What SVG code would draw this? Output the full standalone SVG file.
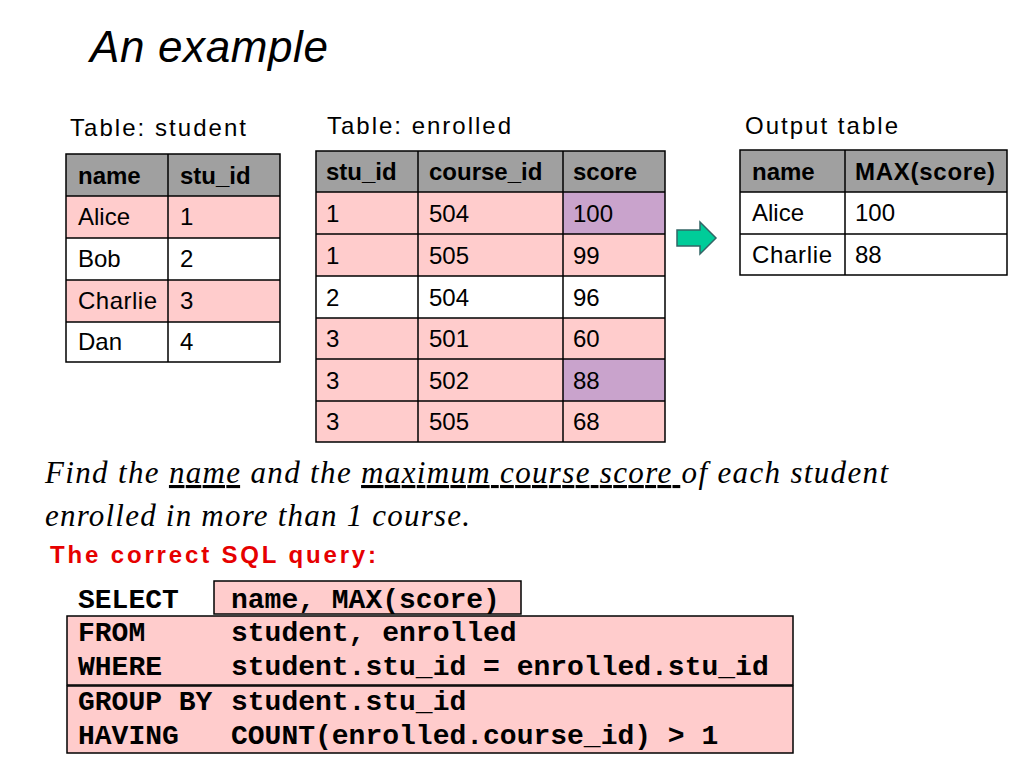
<svg xmlns="http://www.w3.org/2000/svg" width="1024" height="768" viewBox="0 0 1024 768">
<style>
.t{font-family:"Liberation Sans",Arial,sans-serif;font-size:24px;fill:#000}
.h{font-family:"Liberation Sans",Arial,sans-serif;font-size:24px;font-weight:bold;fill:#000}
.r{fill:#ffcccc}
.p{fill:#c9a3cc}
.g{fill:#a0a0a0}
.ln{stroke:#000;stroke-width:1.5;fill:none}
.m{font-family:"Liberation Mono","Courier New",monospace;font-size:28px;font-weight:bold;fill:#000}
.s{font-family:"Liberation Serif","Times New Roman",serif;font-size:31px;font-style:italic;fill:#000}
</style>
<rect width="1024" height="768" fill="#fff"/>
<text x="90" y="62" font-family="Liberation Sans,Arial,sans-serif" font-size="44" font-style="italic" textLength="238">An example</text>
<text class="t" x="70" y="136" textLength="176">Table: student</text>
<text class="t" x="327" y="134" textLength="184">Table: enrolled</text>
<text class="t" x="745" y="134" textLength="153">Output table</text>
<g id="student">
<rect class="g" x="66" y="154" width="214" height="42"/>
<rect class="r" x="66" y="196" width="214" height="42"/>
<rect class="r" x="66" y="280" width="214" height="42"/>
<path class="ln" d="M66 154H280V362H66Z M66 196H280 M66 238H280 M66 280H280 M66 322H280 M168 154V362"/>
<text class="h" x="78" y="184">name</text><text class="h" x="180" y="184">stu_id</text>
<text class="t" x="78" y="225">Alice</text><text class="t" x="180" y="225">1</text>
<text class="t" x="78" y="267">Bob</text><text class="t" x="180" y="267">2</text>
<text class="t" x="78" y="309" textLength="79">Charlie</text><text class="t" x="180" y="309">3</text>
<text class="t" x="78" y="350">Dan</text><text class="t" x="180" y="350">4</text>
</g>
<g id="enrolled">
<rect class="g" x="316" y="151" width="349" height="41"/>
<rect class="r" x="316" y="192" width="349" height="84"/>
<rect class="r" x="316" y="318" width="349" height="124"/>
<rect class="p" x="563" y="192" width="102" height="42"/>
<rect class="p" x="563" y="359" width="102" height="42"/>
<path class="ln" d="M316 151H665V442H316Z M316 192H665 M316 234H665 M316 276H665 M316 318H665 M316 359H665 M316 401H665 M418 151V442 M563 151V442"/>
<text class="h" x="326" y="180">stu_id</text><text class="h" x="429" y="180">course_id</text><text class="h" x="573" y="180">score</text>
<text class="t" x="326" y="222">1</text><text class="t" x="429" y="222">504</text><text class="t" x="573" y="222">100</text>
<text class="t" x="326" y="264">1</text><text class="t" x="429" y="264">505</text><text class="t" x="573" y="264">99</text>
<text class="t" x="326" y="306">2</text><text class="t" x="429" y="306">504</text><text class="t" x="573" y="306">96</text>
<text class="t" x="326" y="347">3</text><text class="t" x="429" y="347">501</text><text class="t" x="573" y="347">60</text>
<text class="t" x="326" y="389">3</text><text class="t" x="429" y="389">502</text><text class="t" x="573" y="389">88</text>
<text class="t" x="326" y="430">3</text><text class="t" x="429" y="430">505</text><text class="t" x="573" y="430">68</text>
</g>
<g id="arrow">
<path d="M677 230H700V222L716 238L700 254V246H677Z" fill="#00cc99" stroke="#336666" stroke-width="1.5"/>
</g>
<g id="output">
<rect class="g" x="740" y="150" width="267" height="42"/>
<path class="ln" d="M740 150H1007V275H740Z M740 192H1007 M740 234H1007 M845 150V275"/>
<text class="h" x="752" y="180">name</text><text class="h" x="855" y="180" textLength="140">MAX(score)</text>
<text class="t" x="752" y="221">Alice</text><text class="t" x="855" y="221">100</text>
<text class="t" x="752" y="263" textLength="80">Charlie</text><text class="t" x="855" y="263">88</text>
</g>
<text class="s" x="45" y="483" textLength="843">Find the <tspan text-decoration="underline">name</tspan> and the <tspan text-decoration="underline">maximum course score </tspan>of each student</text>
<text class="s" x="45" y="526" textLength="425">enrolled in more than 1 course.</text>
<text x="50" y="563" font-family="Liberation Sans,Arial,sans-serif" font-size="24" font-weight="bold" fill="#e60000" textLength="326">The correct SQL query:</text>
<g id="sql">
<rect class="r" x="214" y="581" width="307" height="33" stroke="#000" stroke-width="1.5"/>
<rect class="r" x="67" y="616" width="726" height="69" stroke="#000" stroke-width="1.5"/>
<rect class="r" x="67" y="686" width="726" height="67" stroke="#000" stroke-width="1.5"/>
<text class="m" x="78" y="608">SELECT</text><text class="m" x="231" y="608">name, MAX(score)</text>
<text class="m" x="78" y="641">FROM</text><text class="m" x="231" y="641">student, enrolled</text>
<text class="m" x="78" y="675">WHERE</text><text class="m" x="231" y="675">student.stu_id = enrolled.stu_id</text>
<text class="m" x="78" y="710">GROUP BY</text><text class="m" x="231" y="710">student.stu_id</text>
<text class="m" x="78" y="744">HAVING</text><text class="m" x="231" y="744">COUNT(enrolled.course_id) &gt; 1</text>
</g>
</svg>
